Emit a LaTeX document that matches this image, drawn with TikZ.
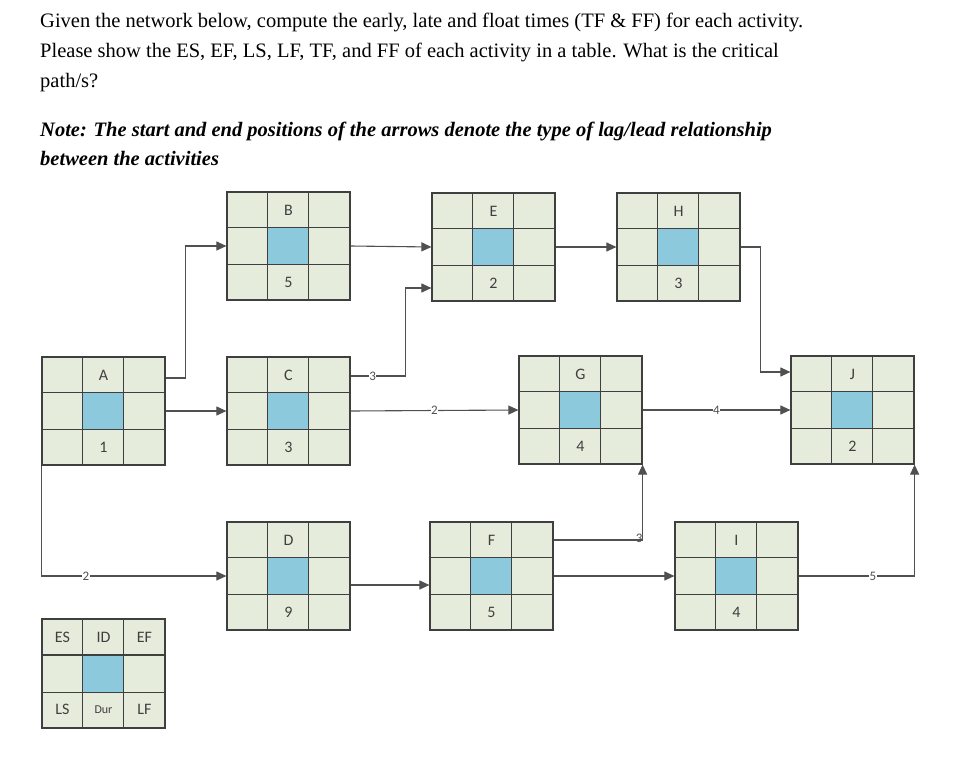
\documentclass[tikz,border=0pt]{standalone}
\usepackage{fontspec}
\setmainfont{Liberation Serif}
\newfontfamily\cellfont{Carlito}
\usetikzlibrary{arrows.meta,calc}
\definecolor{cellbg}{HTML}{E6ECDC}
\definecolor{cellblue}{HTML}{8CC9DD}
\definecolor{gridc}{HTML}{3F3F3F}
\definecolor{linec}{HTML}{505050}
\tikzset{
  actbox/.style={draw=gridc,line width=1.2pt,fill=cellbg,minimum width=123pt,minimum height=108pt,inner sep=0pt},
  conn/.style={draw=linec,line width=1.1pt,-{Triangle[length=10pt,width=9pt]}},
  lag/.style={fill=white,inner sep=0.5pt,font=\cellfont\fontsize{13}{13}\selectfont,text=linec},
  qtext/.style={anchor=base west,inner sep=0pt,font=\fontsize{20.5}{24}\selectfont},
  celltxt/.style={font=\cellfont\fontsize{16}{16}\selectfont,text=gridc}
}
\newcommand\actnode[5]{%
  \node[actbox] (#1) at (#2,#3) {};
  \fill[cellblue] ($(#1.center)+(-20.5pt,-18pt)$) rectangle ($(#1.center)+(20.5pt,18pt)$);
  \draw[gridc,line width=1.2pt] ($(#1.north west)+(41pt,0)$) -- ($(#1.south west)+(41pt,0)$)
    ($(#1.north west)+(82pt,0)$) -- ($(#1.south west)+(82pt,0)$)
    ($(#1.north west)+(0,-36pt)$) -- ($(#1.north east)+(0,-36pt)$)
    ($(#1.south west)+(0,36pt)$) -- ($(#1.south east)+(0,36pt)$);
  \draw[gridc,line width=1.2pt] (#1.south west) rectangle (#1.north east);
  \node[celltxt] (#1id) at ($(#1.center)+(0,36pt)$) {#4};
  \node[celltxt] (#1du) at ($(#1.center)+(0,-36pt)$) {#5};
}
\begin{document}
\begin{tikzpicture}[x=1pt,y=-1pt]
\useasboundingbox[fill=white] (0,0) rectangle (965,757);
\node[qtext] (q1) at (40,28) {Given the network below, compute the early, late and float times (TF \& FF) for each activity.};
\node[qtext] (q2) at (40,58) {Please show the ES, EF, LS, LF, TF, and FF of each activity in a table. What is the critical};
\node[qtext] (q3) at (40,88) {path/s?};
\node[qtext,font=\fontsize{20.5}{24}\selectfont\bfseries\itshape] (n1) at (40,136) {Note: The start and end positions of the arrows denote the type of lag/lead relationship};
\node[qtext,font=\fontsize{20.5}{24}\selectfont\bfseries\itshape] (n2) at (40,165) {between the activities};

\actnode{A}{103.5}{411}{A}{1}
\actnode{B}{288.5}{246}{B}{5}
\actnode{C}{288.5}{411}{C}{3}
\actnode{D}{288.5}{576}{D}{9}
\actnode{E}{493.5}{247}{E}{2}
\actnode{F}{491.5}{576}{F}{5}
\actnode{G}{580.5}{410}{G}{4}
\actnode{H}{678.5}{247}{H}{3}
\actnode{I}{736.5}{576}{I}{4}
\actnode{J}{852.5}{410}{J}{2}

% legend
\node[actbox] (L) at (103.5,673.5) {};
\fill[cellblue] ($(L.center)+(-20.5pt,-18pt)$) rectangle ($(L.center)+(20.5pt,18pt)$);
\draw[gridc,line width=1.2pt] ($(L.north west)+(41pt,0)$) -- ($(L.south west)+(41pt,0)$)
  ($(L.north west)+(82pt,0)$) -- ($(L.south west)+(82pt,0)$)
  ($(L.north west)+(0,-36pt)$) -- ($(L.north east)+(0,-36pt)$)
  ($(L.south west)+(0,36pt)$) -- ($(L.south east)+(0,36pt)$);
\draw[gridc,line width=1.2pt] (L.south west) rectangle (L.north east);
\node[celltxt] (Les) at ($(L.center)+(-41pt,36pt)$) {ES};
\node[celltxt] (Lid) at ($(L.center)+(0,36pt)$) {ID};
\node[celltxt] (Lef) at ($(L.center)+(41pt,36pt)$) {EF};
\node[celltxt] (Lls) at ($(L.center)+(-41pt,-36pt)$) {LS};
\node[celltxt,font=\cellfont\fontsize{12}{12}\selectfont] (Ldu) at ($(L.center)+(0,-36pt)$) {Dur};
\node[celltxt] (Llf) at ($(L.center)+(41pt,-36pt)$) {LF};

% connectors
\draw[conn] ([yshift=33pt]A.east) -- ++(20,0) |- (B.west);
\draw[conn] (A.east) -- (C.west);
\draw[conn] (A.south west) |- node[lag,pos=0.62] {2} (D.west);
\draw[conn] (B.east) -- (E.west);
\draw[conn] ([yshift=35pt]C.east) -- node[lag,pos=0.4] {3} ++(55,0) |- ([yshift=-41pt]E.west);
\draw[conn] (C.east) -- node[lag] {2} (G.west);
\draw[conn] ([yshift=-9pt]D.east) -- ([yshift=-9pt]F.west);
\draw[conn] (E.east) -- (H.west);
\draw[conn] (H.east) -- ++(20,0) |- ([yshift=38pt]J.west);
\draw[conn] (G.east) -- node[lag] {4} (J.west);
\draw[conn] ([yshift=36pt]F.east) -| node[lag,pos=0.48,fill=none,above=-4pt] {3} (G.south east);
\draw[conn] (F.east) -- (I.west);
\draw[conn] (I.east) -| node[lag,pos=0.32] {5} (J.south east);
\end{tikzpicture}
\end{document}
